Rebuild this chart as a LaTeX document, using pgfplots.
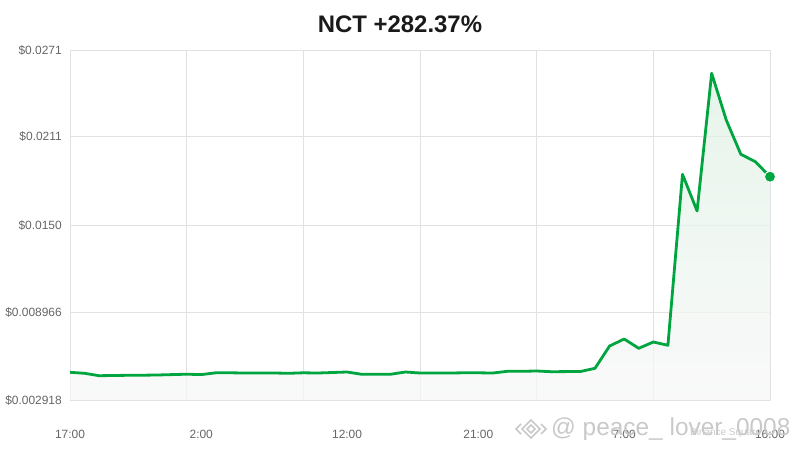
\documentclass[border=0pt]{standalone}
\usepackage{pgfplots}
\pgfplotsset{compat=1.18}
\usepackage{pgfplotstable}
\usepackage{fontspec}
\setmainfont{Liberation Sans}

\definecolor{linegreen}{HTML}{00A540}
\definecolor{gridgray}{HTML}{E2E2E2}
\definecolor{ticktext}{HTML}{666666}
\definecolor{wmgray}{HTML}{C9C9C9}

% hourly price, index 0 = 17:00
\pgfplotstableread{
i price
0 0.004832
1 0.004763
2 0.004597
3 0.004611
4 0.004625
5 0.004631
6 0.004645
7 0.004673
8 0.004700
9 0.004673
10 0.004797
11 0.004797
12 0.004783
13 0.004783
14 0.004783
15 0.004763
16 0.004797
17 0.004783
18 0.004818
19 0.004853
20 0.004694
21 0.004694
22 0.004700
23 0.004853
24 0.004783
25 0.004783
26 0.004783
27 0.004797
28 0.004797
29 0.004783
30 0.004901
31 0.004901
32 0.004922
33 0.004873
34 0.004880
35 0.004887
36 0.005108
37 0.006649
38 0.007132
39 0.006490
40 0.006925
41 0.006697
42 0.018512
43 0.015976
44 0.025490
45 0.022263
46 0.019893
47 0.019382
48 0.018346
}\pricedata

\begin{document}
\begin{tikzpicture}
\path[use as bounding box] (0,0) rectangle (800bp,450bp);

\begin{axis}[
  at={(70bp,50bp)}, anchor=south west,
  scale only axis,
  width=700bp, height=350bp,
  xmin=0, xmax=48,
  ymin=0.002918, ymax=0.0271,
  xtick={0,9,19,28,38,48},
  xticklabels={17:00,2:00,12:00,21:00,7:00,16:00},
  extra x ticks={0,8,16,24,32,40,48},
  extra x tick labels={,,,,,,},
  extra x tick style={grid=major},
  ytick={0.002918,0.008966,0.0150,0.0211,0.0271},
  yticklabels={\$0.002918,\$0.008966,\$0.0150,\$0.0211,\$0.0271},
  ymajorgrids,
  major tick length=0pt,
  grid style={gridgray, line width=0.8bp},
  axis line style={gridgray, line width=0.8bp},
  tick label style={font=\fontsize{12}{14}\selectfont, text=ticktext},
  xticklabel style={anchor=base, yshift=-38bp},
  yticklabel style={anchor=east, inner sep=0pt, xshift=-8bp},
  scaled y ticks=false,
  clip mode=individual,
]
  \addplot[draw=none, top color={rgb,255:red,222;green,241;blue,228},
    bottom color=white!97!black, fill opacity=0.75] table[x=i, y=price] {\pricedata} \closedcycle;
  \addplot[linegreen, line width=2.8bp, line join=round, mark=none] table[x=i, y=price] {\pricedata};
  \addplot[only marks, mark=*, mark size=5.5bp, mark options={fill=linegreen, draw=white, line width=0.8bp}]
    coordinates {(48,0.018346)};
\end{axis}

% title
\node[font=\fontsize{24}{28}\selectfont\bfseries, text={rgb,255:red,26;green,26;blue,26}] at (400bp,426bp) {NCT +282.37\%};

% watermark
\begin{scope}[wmgray, line width=1.5bp]
  \draw (531bp,12bp) -- (540bp,21bp) -- (531bp,30bp) -- (522bp,21bp) -- cycle;
  \draw (531bp,17bp) -- (535bp,21bp) -- (531bp,25bp) -- (527bp,21bp) -- cycle;
  \draw (521bp,26bp) -- (516bp,21bp) -- (521bp,16bp);
  \draw (541bp,26bp) -- (546bp,21bp) -- (541bp,16bp);
\end{scope}
\node[anchor=base west, inner sep=0pt, text=wmgray, font=\fontsize{24.5}{29}\selectfont] at (551bp,15bp) {@ peace\_ lover\_0008};
\node[anchor=base west, inner sep=0pt, text=wmgray, font=\fontsize{10}{12}\selectfont] at (690bp,15bp) {Binance Square};
\end{tikzpicture}
\end{document}
